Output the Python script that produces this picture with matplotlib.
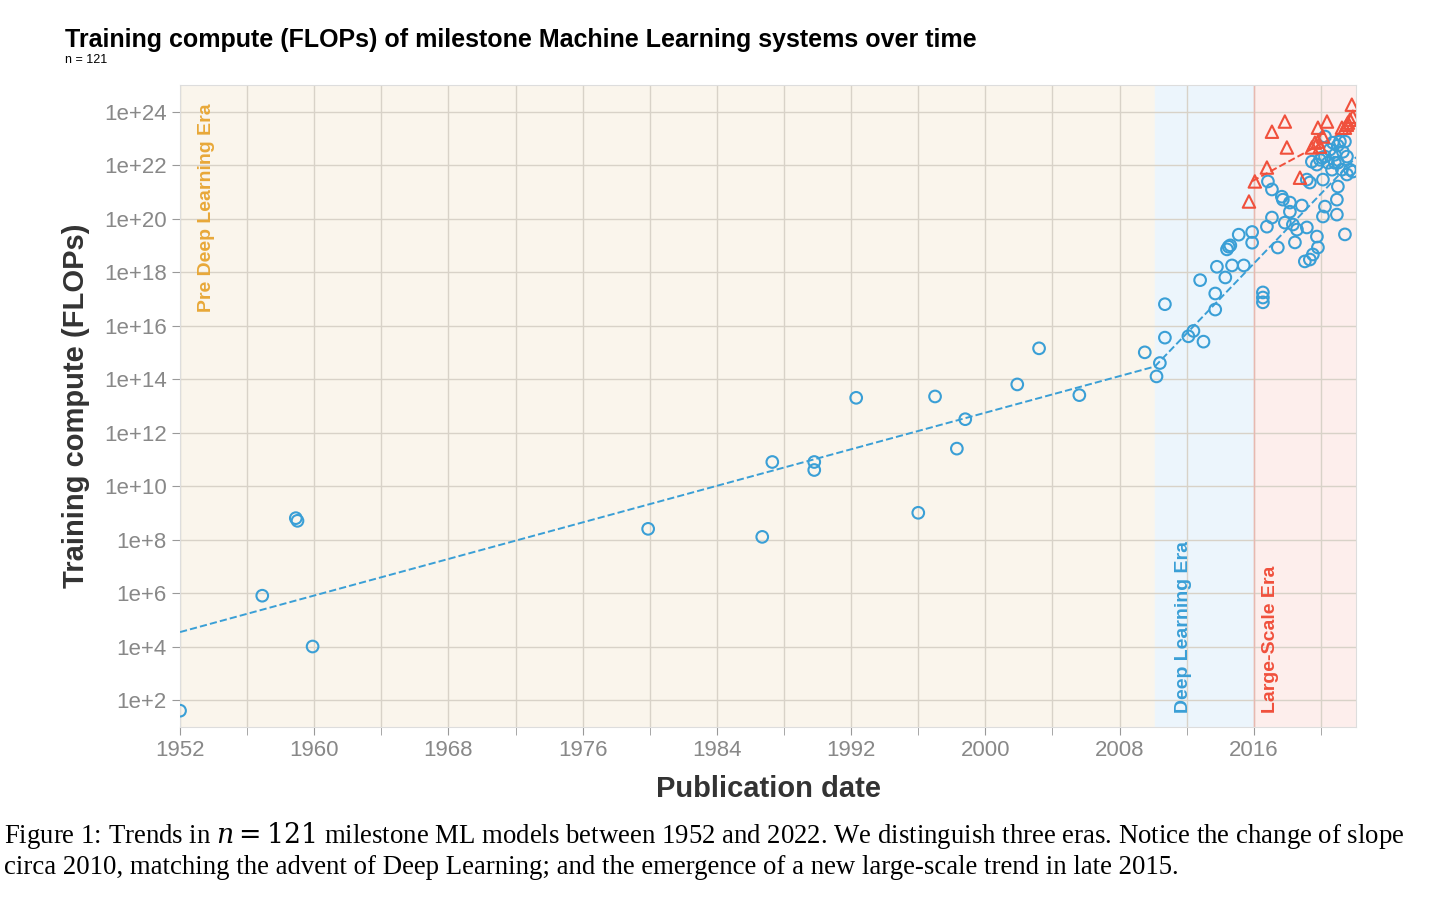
import matplotlib.pyplot as plt
import numpy as np

plt.rcParams['font.family'] = 'Liberation Sans'

# publication year and log10(training FLOPs)
blue_year = [1952.0, 1956.9, 1958.9, 1959.0, 1959.9, 1979.9, 1986.7, 1987.3, 1989.8, 1989.8,
             1992.3, 1996.0, 1997.0, 1998.3, 1998.8, 2001.9, 2003.2, 2005.6, 2009.5, 2010.2,
             2010.4, 2010.7, 2010.7, 2012.1, 2012.4, 2012.8, 2013.0, 2013.7, 2013.7, 2013.8,
             2014.3, 2014.4, 2014.5, 2014.6, 2014.7, 2015.1, 2015.4, 2015.9, 2015.9,
             2016.54, 2016.54, 2016.54, 2016.84, 2017.08, 2017.67, 2017.73, 2018.15, 2018.86, 2018.15,
             2017.08, 2016.78, 2017.85, 2018.33, 2018.57, 2017.43, 2018.45, 2019.16, 2019.76, 2019.82,
             2019.52, 2019.34, 2019.04, 2020.12, 2020.95, 2021.43, 2020.24, 2020.95, 2021.01, 2020.12,
             2019.34, 2019.16, 2019.76, 2019.94, 2020.24, 2020.53, 2020.83, 2021.13, 2021.43, 2021.31,
             2021.55, 2021.73, 2021.55, 2021.25, 2020.66, 2020.83, 2020.42, 2021.9, 2021.01, 2020.24,
             2020.71, 2021.0, 2019.46, 2020.06]
blue_log = [1.6, 5.9, 8.8, 8.7, 4.0, 8.4, 8.1, 10.9, 10.9, 10.6,
            13.3, 9.0, 13.35, 11.4, 12.5, 13.8, 15.15, 13.4, 15.0, 14.1,
            14.6, 16.8, 15.55, 15.6, 15.8, 17.7, 15.4, 17.2, 16.6, 18.2,
            17.8, 18.85, 18.95, 19.0, 18.25, 19.4, 18.25, 19.5, 19.1,
            17.24, 17.05, 16.87, 21.39, 21.09, 20.82, 20.71, 20.6, 20.49, 20.26,
            20.04, 19.7, 19.85, 19.78, 19.59, 18.92, 19.11, 19.67, 19.33, 18.92,
            18.66, 18.47, 18.4, 20.08, 20.15, 19.41, 20.45, 20.71, 21.2, 21.46,
            21.35, 21.46, 22.02, 22.2, 22.32, 22.58, 22.39, 22.88, 22.88, 22.5,
            22.32, 21.83, 21.65, 21.83, 21.83, 22.09, 22.09, 21.76, 22.09, 23.07,
            22.84, 22.73, 22.13, 22.28]

red_year = [2021.84, 2017.85, 2017.08, 2020.36, 2019.82, 2021.25, 2021.73, 2021.9, 2021.55, 2017.97,
            2016.78, 2016.06, 2015.71, 2018.75, 2020.12, 2019.82, 2019.94, 2019.64, 2019.46, 2021.43,
            2021.61]
red_log = [24.26, 23.63, 23.25, 23.63, 23.4, 23.4, 23.7, 23.81, 23.51, 22.66,
           21.91, 21.39, 20.64, 21.53, 23.07, 22.88, 22.69, 22.84, 22.66, 23.4,
           23.59]

# trend line end points (year, log10 FLOPs)
pre_trend = ([1952.0, 2010.1], [4.54, 14.47])
dl_trend = ([2010.1, 2022.1], [14.47, 22.3])
ls_trend = ([2015.9, 2022.1], [21.4, 23.5])

BLUE = '#3a9fd6'
RED = '#f0503c'

fig = plt.figure(figsize=(14.52, 9.13), dpi=100)
ax = fig.add_axes([0.124, 0.204, 0.81, 0.703])

x0, x1 = 1952.0, 2022.1
ax.axvspan(x0, 2010.1, color='#faf5ec', zorder=0)
ax.axvspan(2010.1, 2016.0, color='#ecf5fc', zorder=0)
ax.axvspan(2016.0, x1, color='#fdeeec', zorder=0)
ax.axvline(2016.0, color='#e8b8b0', lw=1, zorder=1)

ax.set_yscale('log')
ax.set_xlim(x0, x1)
ax.set_ylim(1e1, 1e25)

ax.plot(pre_trend[0], 10.0 ** np.array(pre_trend[1]), ls='--', color=BLUE, lw=1.4, zorder=3)
ax.plot(dl_trend[0], 10.0 ** np.array(dl_trend[1]), ls='--', color=BLUE, lw=1.4, zorder=3)
ax.plot(ls_trend[0], 10.0 ** np.array(ls_trend[1]), ls='--', color=RED, lw=1.4, zorder=3)

ax.scatter(blue_year, 10.0 ** np.array(blue_log), s=70, facecolors='none',
           edgecolors=BLUE, linewidths=1.5, zorder=4)
ax.scatter(red_year, 10.0 ** np.array(red_log), s=80, marker='^', facecolors='none',
           edgecolors=RED, linewidths=1.5, zorder=5)

yt = [10.0 ** k for k in range(2, 25, 2)]
ax.set_yticks(yt)
ax.set_yticklabels(['1e+%d' % k for k in range(2, 25, 2)])
ax.yaxis.set_minor_locator(plt.NullLocator())
ax.set_xticks(np.arange(1952, 2022, 4), minor=True)
ax.set_xticks(np.arange(1952, 2022, 8))
ax.grid(True, which='both', color='#d8d2c8', lw=1, zorder=1)
ax.set_axisbelow(True)
ax.tick_params(axis='both', which='both', colors='#999999', labelsize=16, length=6)
ax.tick_params(axis='x', which='minor', labelbottom=False)
for tl in ax.get_xticklabels() + ax.get_yticklabels():
    tl.set_color('#888888')
for s in ax.spines.values():
    s.set_color('#dddddd')

ax.set_xlabel('Publication date', fontsize=21, fontweight='bold', color='#333333', labelpad=10)
ax.set_ylabel('Training compute (FLOPs)', fontsize=21, fontweight='bold', color='#333333', labelpad=10)

ax.text(1953.6, 10 ** 24.3, 'Pre Deep Learning Era', rotation=90, color='#e8a838', fontsize=14,
        fontweight='bold', va='top', ha='center')
ax.text(2011.8, 10 ** 1.5, 'Deep Learning Era', rotation=90, color=BLUE, fontsize=14,
        fontweight='bold', va='bottom', ha='center')
ax.text(2017.0, 10 ** 1.5, 'Large-Scale Era', rotation=90, color=RED, fontsize=14,
        fontweight='bold', va='bottom', ha='center')

fig.text(0.045, 0.948, 'Training compute (FLOPs) of milestone Machine Learning systems over time',
         fontsize=18, fontweight='bold')
fig.text(0.045, 0.931, 'n = 121', fontsize=9)

fig.text(0.003, 0.043,
         'Figure 1: Trends in $n = 121$ milestone ML models between 1952 and 2022. We distinguish three eras. Notice the change of slope\n'
         'circa 2010, matching the advent of Deep Learning; and the emergence of a new large-scale trend in late 2015.',
         fontsize=19.3, family='Liberation Serif', linespacing=1.2, math_fontfamily='dejavuserif')

fig.savefig('out.png', dpi=100)
